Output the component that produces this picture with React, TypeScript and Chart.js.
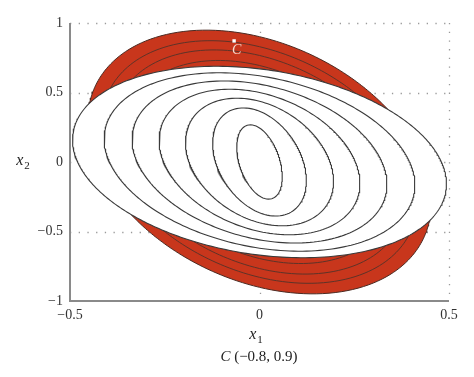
import React, { useEffect, useRef } from 'react';
import { Chart, registerables } from 'chart.js';

Chart.register(...registerables);

// axis ticks
const xTicks = [-0.5, 0, 0.5];
const yTicks = [-1, -0.5, 0, 0.5, 1];

// red (tilted) region: quadratic form a x^2 + 2 b x y + c y^2 <= 1
const redA = 5.39;
const redB = 0.8;
const redC = 1.23;
const redLevels = [1, 0.92, 0.85, 0.77];

// white region contours: x-intercept, y-intercept, tilt (b / a)
const whiteXInt = [0.055, 0.116, 0.186, 0.253, 0.323, 0.396, 0.48];
const whiteYInt = [0.245, 0.365, 0.437, 0.5, 0.56, 0.62, 0.67];
const whiteTilt = [0.09, 0.11, 0.13, 0.15, 0.16, 0.165, 0.165];

// marked point
const pointC = { x: -0.067, y: 0.871 };
const pointLabel = 'C';
const captionItalic = 'C';
const captionRest = ' (\u22120.8, 0.9)';

const SERIF = "'Liberation Serif', 'DejaVu Serif', serif";

function ellipsePoints(a: number, b: number, c: number, scale: number, n = 360) {
  const pts: { x: number; y: number }[] = [];
  for (let i = 0; i <= n; i++) {
    const t = (i / n) * 2 * Math.PI;
    const co = Math.cos(t);
    const si = Math.sin(t);
    const q = a * co * co + 2 * b * co * si + c * si * si;
    const r = scale / Math.sqrt(q);
    pts.push({ x: r * co, y: r * si });
  }
  return pts;
}

function fmt(v: number) {
  if (v < 0) return '\u2212' + String(Math.abs(v));
  return String(v);
}

function drawVar(ctx: CanvasRenderingContext2D, cx: number, base: number, sub: string, size: number) {
  ctx.save();
  ctx.font = `italic ${size}px ${SERIF}`;
  const wx = ctx.measureText('x').width;
  ctx.font = `${Math.round(size * 0.68)}px ${SERIF}`;
  const ws = ctx.measureText(sub).width;
  const total = wx + ws + 1;
  const left = cx - total / 2;
  ctx.fillStyle = '#222';
  ctx.textAlign = 'left';
  ctx.textBaseline = 'alphabetic';
  ctx.font = `italic ${size}px ${SERIF}`;
  ctx.fillText('x', left, base);
  ctx.font = `${Math.round(size * 0.68)}px ${SERIF}`;
  ctx.fillText(sub, left + wx + 1, base + size * 0.22);
  ctx.restore();
}

const decorPlugin = {
  id: 'decor',
  beforeDatasetsDraw(chart: any) {
    const { ctx, chartArea, scales } = chart;
    const xs = scales.x;
    const ys = scales.y;
    ctx.save();
    ctx.strokeStyle = '#9a9a9a';
    ctx.lineWidth = 1.3;
    ctx.setLineDash([1.3, 7.4]);
    yTicks.forEach((v) => {
      if (v === yTicks[0]) return;
      const py = Math.round(ys.getPixelForValue(v)) + 0.5;
      ctx.beginPath();
      ctx.moveTo(chartArea.left, py);
      ctx.lineTo(chartArea.right, py);
      ctx.stroke();
    });
    xTicks.forEach((v) => {
      if (v === xTicks[0]) return;
      const px = Math.round(xs.getPixelForValue(v)) + 0.5;
      ctx.beginPath();
      ctx.moveTo(px, chartArea.top);
      ctx.lineTo(px, chartArea.bottom);
      ctx.stroke();
    });
    ctx.restore();
  },
  afterDatasetsDraw(chart: any) {
    const { ctx, chartArea } = chart;
    ctx.save();
    ctx.strokeStyle = '#8a8a8a';
    ctx.lineWidth = 2;
    ctx.setLineDash([]);
    ctx.beginPath();
    ctx.moveTo(chartArea.left, chartArea.top);
    ctx.lineTo(chartArea.left, chartArea.bottom);
    ctx.lineTo(chartArea.right, chartArea.bottom);
    ctx.stroke();
    ctx.restore();
  },
  afterDraw(chart: any) {
    const { ctx, scales } = chart;
    const xs = scales.x;
    const ys = scales.y;
    ctx.save();
    // point label
    const px = xs.getPixelForValue(pointC.x);
    const py = ys.getPixelForValue(pointC.y);
    ctx.font = `italic 14px ${SERIF}`;
    ctx.fillStyle = '#f6ddd2';
    ctx.textAlign = 'left';
    ctx.textBaseline = 'alphabetic';
    ctx.fillText(pointLabel, px - 2, py + 13);
    // axis titles
    drawVar(ctx, 256, 339, '1', 16);
    drawVar(ctx, 23, 165, '2', 16);
    // caption
    ctx.font = `italic 15px ${SERIF}`;
    const w1 = ctx.measureText(captionItalic).width;
    ctx.font = `15px ${SERIF}`;
    const w2 = ctx.measureText(captionRest).width;
    const left = 259 - (w1 + w2) / 2;
    ctx.fillStyle = '#222';
    ctx.font = `italic 15px ${SERIF}`;
    ctx.fillText(captionItalic, left, 361);
    ctx.font = `15px ${SERIF}`;
    ctx.fillText(captionRest, left + w1, 361);
    ctx.restore();
  },
};

export default function App() {
  const ref = useRef<HTMLCanvasElement>(null);

  useEffect(() => {
    if (!ref.current) return;
    const datasets: any[] = [];
    datasets.push({
      data: [pointC],
      showLine: false,
      pointRadius: 2.4,
      pointStyle: 'rect',
      pointBackgroundColor: '#ffffff',
      pointBorderColor: '#ffffff',
      pointBorderWidth: 0,
    });
    const nW = whiteXInt.length;
    for (let k = 0; k < nW; k++) {
      const a = 1 / (whiteXInt[k] * whiteXInt[k]);
      const c = 1 / (whiteYInt[k] * whiteYInt[k]);
      const b = whiteTilt[k] * a;
      const outer = k === nW - 1;
      datasets.push({
        data: ellipsePoints(a, b, c, 1),
        showLine: true,
        pointRadius: 0,
        borderColor: '#3a3a3a',
        borderWidth: 1.1,
        tension: 0,
        fill: outer ? 'shape' : false,
        backgroundColor: outer ? '#ffffff' : 'transparent',
      });
    }
    for (let k = 1; k < redLevels.length; k++) {
      datasets.push({
        data: ellipsePoints(redA, redB, redC, redLevels[k]),
        showLine: true,
        pointRadius: 0,
        borderColor: '#5e3328',
        borderWidth: 1,
        tension: 0,
        fill: false,
      });
    }
    datasets.push({
      data: ellipsePoints(redA, redB, redC, redLevels[0]),
      showLine: true,
      pointRadius: 0,
      borderColor: '#4a2a22',
      borderWidth: 1,
      tension: 0,
      fill: 'shape',
      backgroundColor: '#c8361c',
    });

    const chart = new Chart(ref.current, {
      type: 'scatter',
      data: { datasets },
      options: {
        responsive: false,
        animation: false,
        devicePixelRatio: 1,
        layout: { padding: { left: 0, right: 25, top: 23, bottom: 0 } },
        plugins: { legend: { display: false }, tooltip: { enabled: false } },
        events: [],
        scales: {
          x: {
            type: 'linear',
            min: -0.5,
            max: 0.5,
            afterFit: (s: any) => { s.height = 76; },
            grid: { display: false, drawTicks: false },
            border: { display: false },
            ticks: {
              stepSize: 0.5,
              autoSkip: false,
              maxRotation: 0,
              padding: 6,
              color: '#333',
              font: { family: SERIF, size: 14 },
              callback: (v: any) => fmt(Number(v)),
            },
          },
          y: {
            type: 'linear',
            min: -1,
            max: 1,
            afterFit: (s: any) => { s.width = 70; },
            grid: { display: false, drawTicks: false },
            border: { display: false },
            ticks: {
              stepSize: 0.5,
              autoSkip: false,
              padding: 7,
              color: '#333',
              font: { family: SERIF, size: 14 },
              callback: (v: any) => fmt(Number(v)),
            },
          },
        },
      },
      plugins: [decorPlugin],
    } as any);
    return () => chart.destroy();
  }, []);

  return (
    <div style={{ position: 'fixed', left: 0, top: 0, width: 474, height: 377, background: '#fff' }}>
      <canvas ref={ref} width={474} height={377} style={{ display: 'block', width: 474, height: 377 }} />
    </div>
  );
}
